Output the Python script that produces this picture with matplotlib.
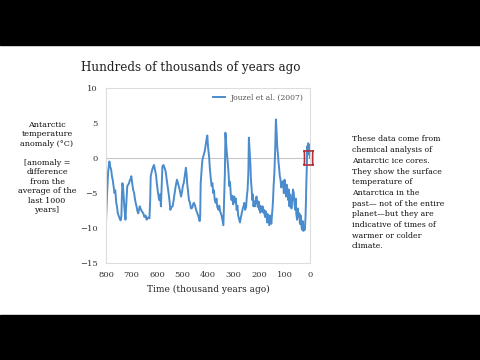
"""
Antarctic temperature anomaly (Jouzel et al. 2007) - slide recreation
"""
import matplotlib
matplotlib.use("Agg")
import matplotlib.pyplot as plt
from matplotlib.patches import FancyBboxPatch, Rectangle

# thousand years ago, temperature anomaly (C)
age_kyr = [800, 796, 792, 787, 784, 780, 777, 774, 770, 767, 764, 760, 757, 754, 750,
           747, 743, 740, 738, 736, 733, 731, 728, 724, 720, 717, 713, 710, 707, 704,
           701, 698, 694, 690, 687, 684, 680, 677, 674, 671, 668, 664, 660, 654, 650,
           645, 641, 636, 630, 627, 625, 620, 615, 612, 608, 604, 601, 597, 592, 588,
           585, 582, 579, 575, 571, 567, 562, 558, 555, 551, 548, 544, 539, 535, 531,
           527, 522, 518, 515, 511, 506, 502, 499, 495, 491, 487, 484, 482, 478, 475,
           471, 467, 462, 458, 455, 451, 447, 442, 438, 433, 431, 429, 425, 422, 418,
           413, 409, 405, 403, 400, 396, 393, 389, 386, 383, 380, 377, 374, 370, 367,
           364, 359, 356, 353, 350, 347, 344, 340, 337, 334, 332, 329, 326, 324, 320,
           317, 314, 311, 308, 305, 302, 299, 297, 294, 291, 288, 285, 282, 278, 275,
           271, 268, 264, 261, 258, 255, 251, 248, 245, 242, 240, 237, 234, 232, 229,
           227, 225, 222, 219, 216, 213, 210, 207, 205, 202, 199, 197, 195, 192, 189,
           186, 183, 180, 177, 174, 171, 168, 166, 163, 160, 157, 155, 152, 149, 146,
           143, 140, 137, 134, 131, 129, 126, 124, 122, 119, 116, 113, 111, 109, 106,
           103, 100, 97, 94, 92, 89, 86, 84, 81, 78, 76, 73, 70, 67, 64,
           61, 58, 56, 54, 51, 48, 45, 42, 40, 37, 34, 32, 29, 26, 24,
           22, 20, 18, 16, 15, 13, 11, 9, 7, 5, 3, 1, 0]
temp_anom = [-8.8, -5.0, -2.0, -0.5, -1.2, -1.7, -2.6, -3.1, -4.2, -5.0, -4.6, -6.4, -7.0, -7.9, -8.3,
             -8.6, -8.9, -8.3, -5.5, -3.6, -4.4, -5.5, -7.2, -8.8, -6.0, -4.0, -3.8, -3.6, -3.2, -3.0,
             -2.6, -3.5, -4.5, -5.0, -5.8, -6.4, -7.0, -7.6, -7.9, -7.4, -6.9, -7.3, -7.6, -7.9, -8.4,
             -8.2, -8.8, -8.5, -8.6, -6.0, -2.6, -1.8, -1.2, -1.0, -1.7, -2.5, -3.6, -4.8, -6.0, -5.2,
             -6.9, -4.0, -1.2, -1.0, -1.4, -1.8, -3.1, -4.2, -5.0, -6.2, -7.4, -7.0, -6.9, -6.0, -5.0,
             -4.0, -3.1, -3.6, -4.0, -4.6, -5.5, -4.8, -4.0, -3.5, -2.5, -1.4, -2.4, -3.6, -5.0, -6.0,
             -6.4, -7.2, -7.1, -6.5, -6.4, -6.8, -7.4, -7.9, -8.3, -9.0, -8.3, -3.6, -1.5, -0.2, 0.3,
             1.0, 2.0, 2.9, 3.2, 1.5, 0.2, -1.5, -3.1, -4.0, -3.6, -5.0, -4.6, -6.0, -6.4, -5.8,
             -7.0, -7.4, -6.8, -7.6, -7.9, -8.2, -8.8, -9.6, -6.0, -2.0, 3.6, 2.0, 0.5, -0.2, -2.0,
             -4.0, -3.4, -5.2, -6.0, -5.4, -6.6, -5.5, -5.5, -6.4, -5.8, -7.4, -6.8, -8.2, -8.8, -9.2,
             -8.4, -7.9, -7.2, -6.9, -6.4, -7.4, -7.0, -5.5, -4.5, -2.0, 2.9, 1.0, -1.0, -3.1, -4.5,
             -6.0, -5.2, -6.9, -6.2, -6.9, -5.9, -5.5, -6.5, -7.0, -6.2, -7.4, -6.8, -7.8, -6.9, -7.6,
             -6.9, -7.8, -7.4, -8.4, -7.6, -8.3, -9.2, -8.0, -8.8, -9.6, -8.2, -8.8, -9.4, -7.9, -6.5,
             -4.0, -2.1, 1.0, 5.5, 3.5, 1.7, 0.5, -0.5, -1.2, -2.5, -3.1, -4.2, -3.5, -4.0, -3.3,
             -5.0, -3.1, -4.8, -5.5, -3.8, -4.5, -6.0, -4.5, -6.9, -5.2, -6.0, -7.2, -6.0, -4.5, -5.0,
             -6.6, -7.4, -5.8, -8.0, -8.8, -7.2, -8.4, -7.9, -9.4, -8.2, -9.6, -10.2, -9.0, -10.4, -9.8,
             -10.3, -9.8, -8.5, -6.0, -4.0, -1.5, 1.7, 0.5, 2.1, 1.2, 1.8, 0.2, 0.0]

fig = plt.figure(figsize=(4.8, 3.6), dpi=100)
fig.patch.set_facecolor("white")

# black letterbox bars
fig.patches.append(Rectangle((0, 0.875), 1, 0.125, transform=fig.transFigure,
                             color="black", zorder=0))
fig.patches.append(Rectangle((0, 0), 1, 0.125, transform=fig.transFigure,
                             color="black", zorder=0))

ax = fig.add_axes([0.221, 0.269, 0.425, 0.487])
ax.plot(age_kyr, temp_anom, color="#4a8ccc", lw=1.4, label="Jouzel et al. (2007)")
ax.axhline(0, color="#c8c8c8", lw=0.8, zorder=0)

ax.set_xlim(800, 0)
ax.set_ylim(-15, 10)
ax.set_xticks([800, 700, 600, 500, 400, 300, 200, 100, 0])
ax.set_yticks([10, 5, 0, -5, -10, -15])
ax.tick_params(length=0, labelsize=6, colors="#333333", pad=6)
for lab in ax.get_xticklabels() + ax.get_yticklabels():
    lab.set_family("DejaVu Serif")
for s in ax.spines.values():
    s.set_color("#dddddd")
    s.set_linewidth(0.8)
ax.set_xlabel("Time (thousand years ago)", fontsize=6.5, family="DejaVu Serif",
              color="#222222", labelpad=4)

leg = ax.legend(loc="upper right", fontsize=5.5, frameon=False, handlelength=1.6,
                borderaxespad=0.4)
for t in leg.get_texts():
    t.set_color("#555555")
    t.set_family("DejaVu Serif")

# red box around the present
box = FancyBboxPatch((22, -1.0), -32, 2.0, boxstyle="round,pad=0,rounding_size=4",
                     ec="#b0303a", fc="none", lw=1.2, clip_on=False, zorder=5,
                     mutation_aspect=0.1)
ax.add_patch(box)

fig.text(0.397, 0.813, "Hundreds of thousands of years ago", ha="center", va="center",
         fontsize=8.6, family="DejaVu Serif", color="#222222")

fig.text(0.098, 0.535, "Antarctic\ntemperature\nanomaly (°C)\n\n[anomaly =\ndifference\nfrom the\naverage of the\nlast 1000\nyears]",
         ha="center", va="center", fontsize=5.8, family="DejaVu Serif", color="#111111",
         linespacing=1.25)

fig.text(0.733, 0.464, "These data come from\nchemical analysis of\nAntarctic ice cores.\nThey show the surface\ntemperature of\nAntarctica in the\npast\u2014 not of the entire\nplanet\u2014but they are\nindicative of times of\nwarmer or colder\nclimate.",
         ha="left", va="center", fontsize=5.6, family="DejaVu Serif", color="#111111",
         linespacing=1.45)

plt.savefig("out.png", dpi=100)
